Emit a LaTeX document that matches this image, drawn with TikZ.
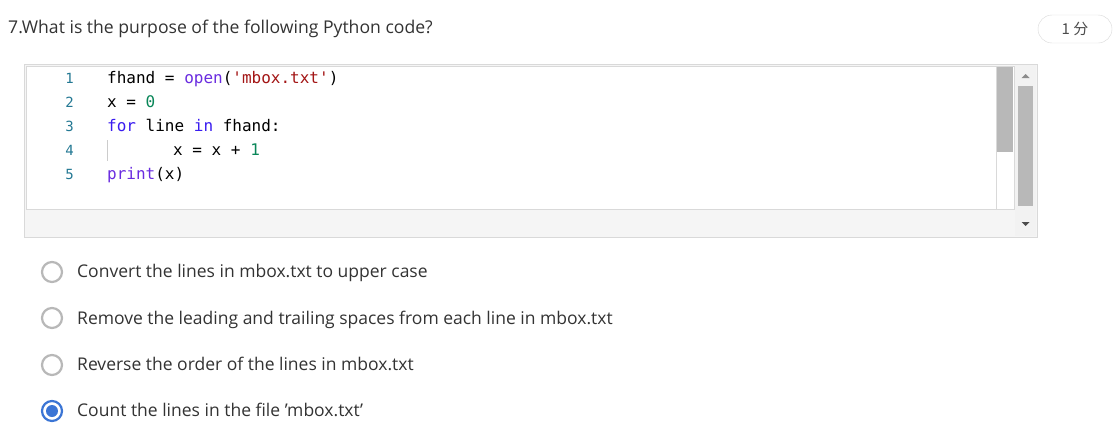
\documentclass[tikz,border=0pt]{standalone}
\usepackage{fontspec}
\setmainfont{Open Sans}
\setmonofont{DejaVu Sans Mono}
\newfontfamily\cjk{Noto Sans CJK SC}
\definecolor{txt}{HTML}{333333}
\definecolor{lnum}{HTML}{237893}
\definecolor{kw}{HTML}{3A1CF0}
\definecolor{fn}{HTML}{6A2CE0}
\definecolor{str}{HTML}{A31515}
\definecolor{num}{HTML}{098658}
\definecolor{radio}{HTML}{3B75D5}
\begin{document}
\begin{tikzpicture}[x=1pt,y=-1pt,
  q/.style={anchor=base west,inner sep=0pt,text=txt,font=\fontsize{17.6}{20}\selectfont},
  ln/.style={anchor=base east,inner sep=0pt,text=lnum,font=\ttfamily\fontsize{14}{16}\selectfont},
  cd/.style={anchor=base west,inner sep=0pt,font=\ttfamily\fontsize{16}{18}\selectfont},
  opt/.style={anchor=base west,inner sep=0pt,text=txt,font=\fontsize{17.5}{20}\selectfont},
  rb/.style={circle,draw=black!28,line width=2.2pt,minimum size=20pt,inner sep=0pt}]
\useasboundingbox (0,0) rectangle (1116,434);
\fill[white] (0,0) rectangle (1116,434);
\node[q] (title) at (8,33) {7.What is the purpose of the following Python code?};
\node[draw=black!15,rounded corners=14pt,minimum width=74pt,minimum height=28pt,inner sep=0pt,
  text=black!70,font=\cjk\fontsize{15}{17}\selectfont] (badge) at (1075,29) {1 分};
% code box
\draw[black!15,fill=black!4] (24,64) rectangle (1037,237);
\draw[black!15,fill=white] (26,66) rectangle (1014,209);
\fill[black!28] (996,67) rectangle (1013,152);
\draw[black!15] (996,66) -- (996,209);
\fill[black!5] (1015,65) rectangle (1036,236);
\fill[black!28] (1018,86) rectangle (1033,206);
\fill[black!45] (1021.5,78) -- (1029.5,78) -- (1025.5,74) -- cycle;
\fill[black!70] (1021.5,222) -- (1029.5,222) -- (1025.5,226) -- cycle;
\draw[black!20] (107,140) -- (107,161);
\node[ln] (n1) at (74,83) {1};
\node[ln] (n2) at (74,107) {2};
\node[ln] (n3) at (74,131) {3};
\node[ln] (n4) at (74,155) {4};
\node[ln] (n5) at (74,179) {5};
\node[cd] (c1) at (107,83) {fhand = \textcolor{fn}{open}(\textcolor{str}{'mbox.txt'})};
\node[cd] (c2) at (107,107) {x = \textcolor{num}{0}};
\node[cd] (c3) at (107,131) {\textcolor{kw}{for} line \textcolor{kw}{in} fhand:};
\node[cd] (c4) at (173,155) {x = x + \textcolor{num}{1}};
\node[cd] (c5) at (107,179) {\textcolor{fn}{print}(x)};
% options
\node[rb] (r1) at (52,272) {};
\node[rb] (r2) at (52,318) {};
\node[rb] (r3) at (52,365) {};
\node[rb,draw=radio] (r4) at (52,411) {};
\fill[radio] (r4.center) circle (6pt);
\node[opt] (o1) at (77,277) {Convert the lines in mbox.txt to upper case};
\node[opt] (o2) at (77,324) {Remove the leading and trailing spaces from each line in mbox.txt};
\node[opt] (o3) at (77,370) {Reverse the order of the lines in mbox.txt};
\node[opt] (o4) at (77,416) {Count the lines in the file {\char"27}mbox.txt{\char"27}};
\end{tikzpicture}
\end{document}
